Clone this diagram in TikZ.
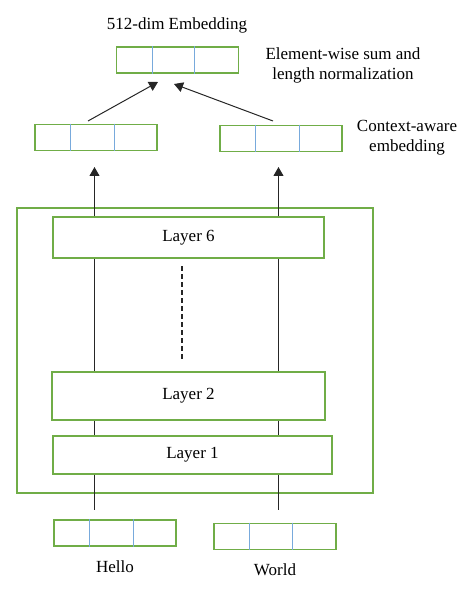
\documentclass[tikz,border=0pt]{standalone}
\usepackage{fontspec}
\setmainfont{Liberation Serif}
\usetikzlibrary{arrows.meta}
\definecolor{boxgreen}{RGB}{112,173,71}
\definecolor{divblue}{RGB}{120,170,220}
\begin{document}
\begin{tikzpicture}[x=1pt,y=-1pt,
  txt/.style={font=\fontsize{17}{20}\selectfont, inner sep=0pt, align=center},
  gbox/.style={draw=boxgreen, line width=1.8pt, inner sep=0pt},
  embbox/.style={gbox, minimum width=122pt, minimum height=26pt},
  layerbox/.style={gbox, font=\fontsize{17}{20}\selectfont},
  conn/.style={draw=black!85, line width=1pt},
  arr/.style={conn, -{Triangle[length=9pt,width=10pt]}},
  divline/.style={draw=divblue, line width=0.9pt}
]
\useasboundingbox (0,0) rectangle (474,593);
% embedding boxes
\node[embbox] (top) at (177.5,60) {};
\node[embbox] (ctxL) at (96,137.5) {};
\node[embbox] (ctxR) at (281,138.5) {};
\node[embbox] (hello) at (115,533) {};
\node[embbox] (world) at (275,536.5) {};
\foreach \n/\a/\b in {top/36.5/78.5, ctxL/36/80, ctxR/36/80, hello/36/80, world/36/79}{
  \draw[divline] ([xshift=\a pt]\n.north west) -- ([xshift=\a pt]\n.south west);
  \draw[divline] ([xshift=\b pt]\n.north west) -- ([xshift=\b pt]\n.south west);
}
% outer box
\node[gbox, minimum width=356pt, minimum height=285pt] (outer) at (195,350.5) {};
% layers
\node[layerbox, minimum width=271pt, minimum height=41pt] (L6) at (188.5,237.5) {Layer 6};
\node[layerbox, minimum width=273pt, minimum height=48pt] (L2) at (188.5,396) {Layer 2};
\node[layerbox, minimum width=279pt, minimum height=38pt] (L1) at (192.5,455) {Layer 1};
% texts
\node[txt] (t512) at (177,25) {512-dim Embedding};
\node[txt] (tsum) at (343,65.5) {Element-wise sum and\\length normalization};
\node[txt] (tctx) at (407,138) {Context-aware\\embedding};
\node[txt] (thello) at (115,567) {Hello};
\node[txt] (tworld) at (275,570) {World};
% coordinates
\coordinate (aL) at (94.5,167);
\coordinate (aR) at (278.5,167);
\coordinate (sL) at (88,121);
\coordinate (eL) at (158,82);
\coordinate (sR) at (273,121);
\coordinate (eR) at (174,84);
\coordinate (hL) at (94,510);
\coordinate (hR) at (278,510);
\coordinate (dA) at (182,266);
\coordinate (dB) at (182,359);
% connectors
\draw[arr] (L6.north -| aL) -- (aL);
\draw[arr] (L6.north -| aR) -- (aR);
\draw[arr] (sL) -- (eL);
\draw[arr] (sR) -- (eR);
\draw[conn] (L6.south -| aL) -- (L2.north -| aL);
\draw[conn] (L6.south -| aR) -- (L2.north -| aR);
\draw[conn] (L2.south -| aL) -- (L1.north -| aL);
\draw[conn] (L2.south -| aR) -- (L1.north -| aR);
\draw[conn] (L1.south -| hL) -- (hL);
\draw[conn] (L1.south -| hR) -- (hR);
\draw[conn, dash pattern=on 5pt off 3pt, line width=1.2pt] (dA) -- (dB);
\end{tikzpicture}
\end{document}
